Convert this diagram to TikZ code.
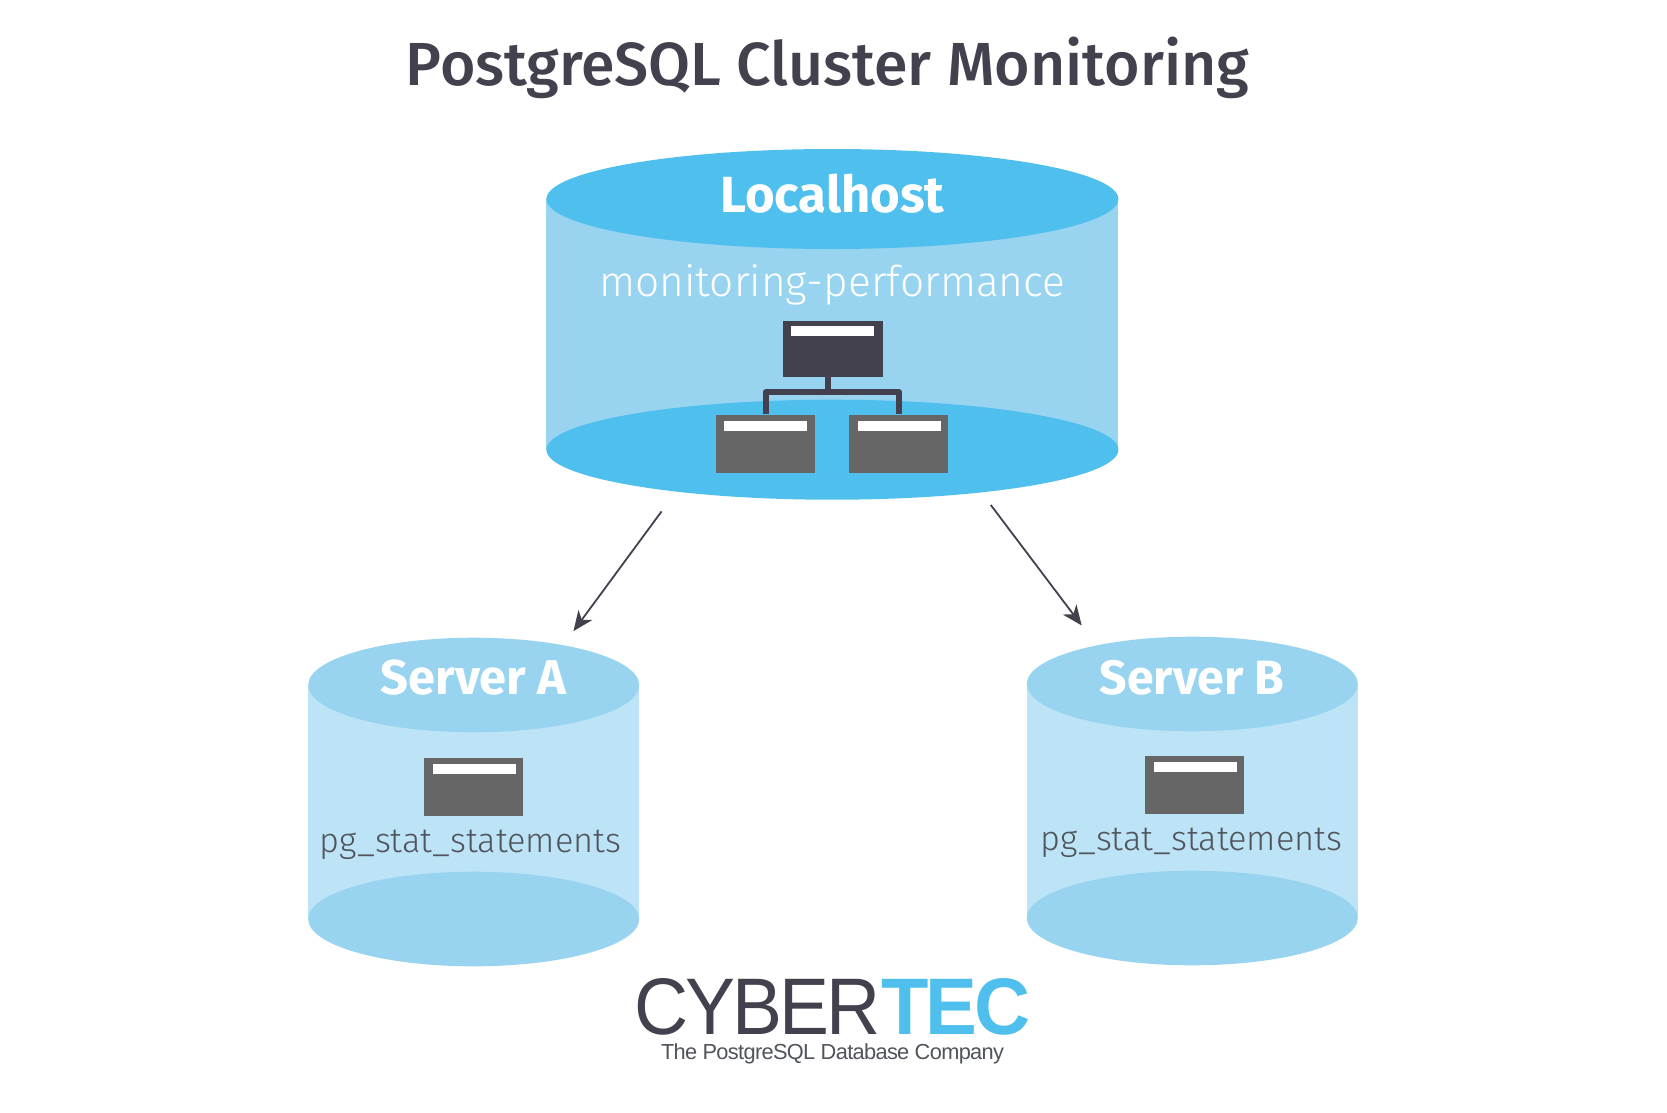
\documentclass[tikz,border=0pt]{standalone}
\usepackage{fontspec}
\usepackage{graphicx}
\usetikzlibrary{shapes.geometric,arrows.meta}
\setmainfont{Fira Sans}
\newfontfamily\medf[UprightFont=* Medium]{Fira Sans}
\newfontfamily\lightf[UprightFont=* Light]{Fira Sans}
\newfontfamily\logof[LetterSpace=-4]{Liberation Sans}
\newfontfamily\tagf[LetterSpace=-3]{Liberation Sans}
\definecolor{topblue}{HTML}{4FBFEE}
\definecolor{midblue}{HTML}{98D4F0}
\definecolor{paleblue}{HTML}{BDE3F6}
\definecolor{ink}{HTML}{42414D}
\definecolor{boxgrey}{HTML}{666666}
\definecolor{txtgrey}{HTML}{50545B}
\tikzset{
  x=1pt,y=-1pt,
  disc/.style={shape=ellipse,inner sep=0pt,outer sep=0pt,draw=none},
  bigdisc/.style={disc,fill=topblue,minimum width=572pt,minimum height=100pt},
  smalldisc/.style={disc,fill=midblue,minimum width=331pt,minimum height=94.6pt},
  darkbox/.style={fill=ink,inner sep=0pt,minimum width=100pt,minimum height=56.5pt},
  greybox/.style={fill=boxgrey,inner sep=0pt,minimum width=99pt,minimum height=58.5pt},
  whitebar/.style={fill=white,inner sep=0pt,minimum width=83pt,minimum height=10pt},
  label/.style={inner sep=0pt,outer sep=0pt,anchor=base},
  link/.style={draw=ink,line width=6pt},
  flow/.style={draw=ink,line width=1.8pt,-{Stealth[length=20pt,width=17pt,inset=6pt]}},
}
\begin{document}
\begin{tikzpicture}
\useasboundingbox[fill=white] (0,0) rectangle (1667,1112);

% title
\node[label,text=ink] (title) at (827.5,85) {\resizebox{843pt}{!}{\medf PostgreSQL Cluster Monitoring}};

% Localhost cylinder
\fill[midblue] (546.4,199) rectangle (1118.4,449.7);
\node[bigdisc] (localbase) at (832.4,449.7) {};
\node[bigdisc] (localtop) at (832.4,199) {};
\node[label,text=white] (localname) at (832.4,212.6) {\resizebox{224pt}{!}{\bfseries Localhost}};
\node[label,text=white] (localdb) at (832.4,296) {\resizebox{466pt}{!}{\lightf monitoring-performance}};

% hierarchy icon
\node[darkbox] (parent) at (832.5,349) {};
\node[whitebar] at (832,331.2) {};
\node[greybox] (childa) at (765.5,443.8) {};
\node[whitebar] at (765.5,425.8) {};
\node[greybox] (childb) at (898.7,443.8) {};
\node[whitebar] at (899,425.8) {};
\coordinate (junction) at (828,392.2);
\draw[link] (parent.south -| junction) -- (junction);
\draw[link,line join=round] (childa.north) |- (junction) -| (childb.north);

% Server A
\fill[paleblue] (308.3,685) rectangle (639,919);
\node[smalldisc] (atop) at (473.7,685) {};
\node[smalldisc] (abase) at (473.7,919) {};
\node[label,text=white] (aname) at (473.7,694) {\resizebox{186pt}{!}{\bfseries Server A}};
\node[greybox] (abox) at (473.5,787.2) {};
\node[whitebar] at (474,768.6) {};
\node[label,text=txtgrey] (atext) at (470.5,852.6) {\resizebox{301pt}{!}{\lightf pg\_stat\_statements}};

% Server B
\fill[paleblue] (1027,684) rectangle (1357.6,918);
\node[smalldisc] (btop) at (1192.3,684) {};
\node[smalldisc] (bbase) at (1192.3,918) {};
\node[label,text=white] (bname) at (1192,694) {\resizebox{185pt}{!}{\bfseries Server B}};
\node[greybox] (bbox) at (1194.5,785) {};
\node[whitebar] at (1195,766.5) {};
\node[label,text=txtgrey] (btext) at (1191.5,850.5) {\resizebox{301pt}{!}{\lightf pg\_stat\_statements}};

% arrows
\draw[flow,shorten <=24.6pt,shorten >=17.5pt] (localbase.195) -- (atop.24.4);
\draw[flow,shorten <=15.8pt,shorten >=25pt] (localbase.-16.7) -- (btop.158.3);

% logo
\node[inner sep=0pt,outer sep=0pt,anchor=base west,text=ink] (cyber) at (634,1034.4) {\resizebox{246pt}{56pt}{\logof CYBER}};
\node[inner sep=0pt,outer sep=0pt,anchor=base west,text=topblue] (tec) at (881,1034.4) {\resizebox{149pt}{56pt}{\logof\bfseries TEC}};
\node[inner sep=0pt,outer sep=0pt,anchor=base west,text=txtgrey] (tag) at (661,1059.5) {\resizebox{343pt}{!}{\tagf The PostgreSQL Database Company}};
\end{tikzpicture}
\end{document}
